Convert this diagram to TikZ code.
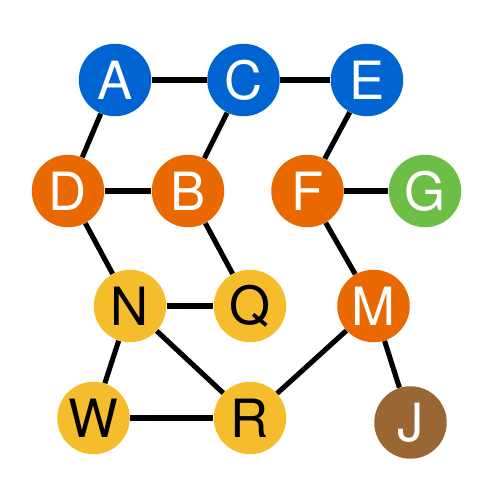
\documentclass[tikz,border=0pt]{standalone}
\usepackage{fontspec}
\setmainfont{TeX Gyre Heros}
\definecolor{cblue}{HTML}{0064D2}
\definecolor{corange}{HTML}{E96900}
\definecolor{cgreen}{HTML}{6CBE45}
\definecolor{cyellow}{HTML}{F5BD2B}
\definecolor{cbrown}{HTML}{9A6634}
\tikzset{
  vtx/.style={circle, minimum size=1.45cm, inner sep=0pt, font=\fontsize{30}{36}\selectfont},
  vblue/.style={vtx, fill=cblue, text=white},
  vorange/.style={vtx, fill=corange, text=white},
  vgreen/.style={vtx, fill=cgreen, text=white},
  vyellow/.style={vtx, fill=cyellow, text=black},
  vbrown/.style={vtx, fill=cbrown, text=white},
  edge/.style={line width=2.9pt, black}
}
\begin{document}
\begin{tikzpicture}[x=0.02cm, y=-0.02cm]
\useasboundingbox (0,0) rectangle (500,500);
\node[vblue] (A) at (115,80) {A};
\node[vblue] (C) at (243.5,80) {C};
\node[vblue] (E) at (367,80) {E};
\node[vorange] (D) at (68,191) {D};
\node[vorange] (B) at (188,191) {B};
\node[vorange] (F) at (307.5,191) {F};
\node[vgreen] (G) at (425,191) {G};
\node[vyellow] (N) at (130,306) {N};
\node[vyellow] (Q) at (250,306) {Q};
\node[vorange] (M) at (373.5,306) {M};
\node[vyellow] (W) at (93.5,418) {W};
\node[vyellow] (R) at (250,418) {R};
\node[vbrown] (J) at (410.5,422.5) {J};
\draw[edge] (A) -- (C);
\draw[edge] (C) -- (E);
\draw[edge] (A) -- (D);
\draw[edge] (C) -- (B);
\draw[edge] (D) -- (B);
\draw[edge] (E) -- (F);
\draw[edge] (F) -- (G);
\draw[edge] (D) -- (N);
\draw[edge] (B) -- (Q);
\draw[edge] (N) -- (Q);
\draw[edge] (F) -- (M);
\draw[edge] (N) -- (W);
\draw[edge] (N) -- (R);
\draw[edge] (W) -- (R);
\draw[edge] (R) -- (M);
\draw[edge] (M) -- (J);
\end{tikzpicture}
\end{document}
